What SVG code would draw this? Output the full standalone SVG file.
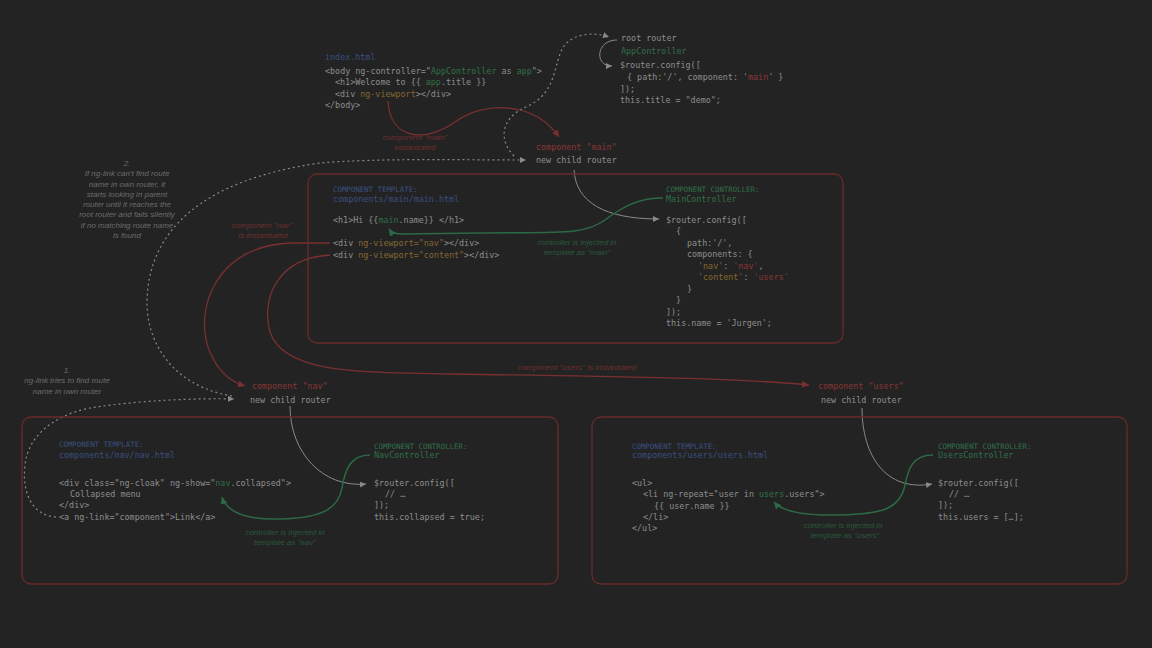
<svg xmlns="http://www.w3.org/2000/svg" width="1152" height="648" viewBox="0 0 1152 648">
<style>
.bg{fill:#232323}
.c{font-family:"DejaVu Sans Mono","Liberation Mono",monospace;font-size:8.4px;fill:#8e8e8e;white-space:pre}
.h{font-family:"DejaVu Sans Mono","Liberation Mono",monospace;font-size:7.4px;white-space:pre}
.b{fill:#3a4f80}
.g{fill:#2f7048}
.r{fill:#8a3636}
.o{fill:#85672f}
.gr{fill:#8e8e8e}
.note{font-family:"Liberation Sans",Arial,sans-serif;font-style:italic;font-size:8px;fill:#6c6c6c;text-anchor:middle}
.rl{font-family:"Liberation Sans",Arial,sans-serif;font-style:italic;font-size:8px;fill:#6e2e2e;text-anchor:middle}
.gl{font-family:"Liberation Sans",Arial,sans-serif;font-style:italic;font-size:8px;fill:#285a3b;text-anchor:middle}
.box{fill:none;stroke:#6a2b2b;stroke-width:1.3}
.lg{fill:none;stroke:#8a8a8a;stroke-width:1}
.ld{fill:none;stroke:#8a8a8a;stroke-width:1.2;stroke-dasharray:2 3}
.lr{fill:none;stroke:#7a3030;stroke-width:1.3}
.lgn{fill:none;stroke:#2c6a45;stroke-width:1.5}
</style>
<defs>
<marker id="ag" markerWidth="8" markerHeight="8" refX="6" refY="3" orient="auto" markerUnits="userSpaceOnUse"><path d="M0,0 L6,3 L0,6 Z" fill="#8a8a8a"/></marker>
<marker id="ar" markerWidth="9" markerHeight="9" refX="7" refY="3.5" orient="auto" markerUnits="userSpaceOnUse"><path d="M0,0 L7,3.5 L0,7 Z" fill="#7a3030"/></marker>
<marker id="agn" markerWidth="9" markerHeight="9" refX="7" refY="3.5" orient="auto" markerUnits="userSpaceOnUse"><path d="M0,0 L7,3.5 L0,7 Z" fill="#2c6a45"/></marker>
</defs>
<rect class="bg" x="0" y="0" width="1152" height="648"/>

<g id="connectors">
<!-- root self loop -->
<path class="lg" d="M617,40 C596,40 594,66 612,66" marker-end="url(#ag)"/>
<!-- router to config -->
<path class="lg" d="M574,170 C576,202 604,219 659,219" marker-end="url(#ag)"/>
<path class="lg" d="M290,406 C290,452 322,488 366,484" marker-end="url(#ag)"/>
<path class="lg" d="M862,408 C862,456 886,492 932,484" marker-end="url(#ag)"/>
<!-- dotted lookup paths -->
<path class="ld" d="M56,517 C30,515 22,490 25,465 C28,435 55,415 90,408 C140,400 200,398 234,399" marker-end="url(#ag)"/>
<path class="ld" d="M232,396 C172,386 146,342 147,300 C149,232 200,180 320,163 C380,158 460,160 526,160" marker-end="url(#ag)"/>
<path class="ld" d="M514,156 C499,141 499,118 528,106 C558,92 553,62 564,46 C574,33 594,32 609,37" marker-end="url(#ag)"/>
<!-- red instantiation -->
<path class="lr" d="M388,101 C390,140 425,143 455,122 C485,100 535,102 559,137" marker-end="url(#ar)"/>
<path class="lr" d="M330,243 L292,243 C215,245 194,310 209,350 C219,374 232,382 245,386" marker-end="url(#ar)"/>
<path class="lr" d="M330,255 C276,258 261,300 270,332 C284,374 360,372 450,374 C600,376 740,378 809,385" marker-end="url(#ar)"/>
<!-- green controller injection -->
<path class="lgn" d="M663,198 C640,198 625,205 605,220 C585,235 560,232 480,233 L402,234 C394,234 391,232 389,229" marker-end="url(#agn)"/>
<path class="lgn" d="M370,455 C350,455 345,470 342,488 C338,510 320,518 280,519 C240,520 226,510 222,497" marker-end="url(#agn)"/>
<path class="lgn" d="M933,455 C912,455 908,470 905,485 C900,510 880,514 840,515 C800,516 781,510 774,502" marker-end="url(#agn)"/>
</g>

<g id="connector-labels">
<text class="rl" x="415" y="140">component "main"</text>
<text class="rl" x="415" y="150">instantiated</text>
<text class="rl" x="262" y="228">component "nav"</text>
<text class="rl" x="263" y="238">is instantiated</text>
<text class="rl" x="577" y="370">component "users" is instantiated</text>
<text class="gl" x="577" y="245">controller is injected in</text>
<text class="gl" x="577" y="255">template as "main"</text>
<text class="gl" x="285" y="535">controller is injected in</text>
<text class="gl" x="285" y="545">template as "nav"</text>
<text class="gl" x="843" y="528">controller is injected in</text>
<text class="gl" x="845" y="538">template as "users"</text>
</g>

<g id="notes">
<text class="note" x="127" y="166">2.</text>
<text class="note" x="127" y="176">If ng-link can't find route</text>
<text class="note" x="127" y="187">name in own router, it</text>
<text class="note" x="127" y="197">starts looking in parent</text>
<text class="note" x="127" y="207">router until it reaches the</text>
<text class="note" x="127" y="217">root router and fails silently</text>
<text class="note" x="127" y="228">if no matching route name</text>
<text class="note" x="127" y="238">is found</text>
<text class="note" x="67" y="373">1.</text>
<text class="note" x="67" y="383">ng-link tries to find route</text>
<text class="note" x="67" y="394">name in own router</text>
</g>

<g id="index-html">
<text class="c b" x="325" y="60">index.html</text>
<text class="c" x="325" y="74">&lt;body ng-controller="<tspan class="g">AppController</tspan> as <tspan class="g">app</tspan>"&gt;</text>
<text class="c" x="335" y="85">&lt;h1&gt;Welcome to {{ <tspan class="g">app</tspan>.title }}</text>
<text class="c" x="335" y="97">&lt;div <tspan class="o">ng-viewport</tspan>&gt;&lt;/div&gt;</text>
<text class="c" x="325" y="108">&lt;/body&gt;</text>
</g>

<g id="root-router">
<text class="c" x="621" y="41">root router</text>
<text class="c g" x="621" y="54">AppController</text>
<text class="c" x="620" y="68">$router.config([</text>
<text class="c" x="627" y="80">{ path:'/', component: '<tspan class="r">main</tspan>' }</text>
<text class="c" x="620" y="92">]);</text>
<text class="c" x="620" y="103">this.title = "demo";</text>
</g>

<g id="main-node">
<text class="c r" x="536" y="150">component "main"</text>
<text class="c" x="536" y="163">new child router</text>
</g>

<g id="main-box">
<rect class="box" x="308" y="174" width="535" height="169" rx="9"/>
<text class="h b" x="333" y="192">COMPONENT TEMPLATE:</text>
<text class="c b" x="333" y="202">components/main/main.html</text>
<text class="c" x="333" y="223">&lt;h1&gt;Hi {{<tspan class="g">main</tspan>.name}} &lt;/h1&gt;</text>
<text class="c" x="333" y="246">&lt;div <tspan class="o">ng-viewport="nav"</tspan>&gt;&lt;/div&gt;</text>
<text class="c" x="333" y="258">&lt;div <tspan class="o">ng-viewport="content"</tspan>&gt;&lt;/div&gt;</text>
<text class="h g" x="666" y="192">COMPONENT CONTROLLER:</text>
<text class="c g" x="666" y="202">MainController</text>
<text class="c" x="666" y="223">$router.config([</text>
<text class="c" x="676" y="234">{</text>
<text class="c" x="687" y="246">path:'/',</text>
<text class="c" x="687" y="257">components: {</text>
<text class="c" x="698" y="269"><tspan class="o">'nav'</tspan>: <tspan class="r">'nav'</tspan>,</text>
<text class="c" x="698" y="280"><tspan class="o">'content'</tspan>: <tspan class="r">'users'</tspan></text>
<text class="c" x="687" y="292">}</text>
<text class="c" x="676" y="303">}</text>
<text class="c" x="666" y="315">]);</text>
<text class="c" x="666" y="326">this.name = 'Jurgen';</text>
</g>

<g id="nav-node">
<text class="c r" x="252" y="389">component "nav"</text>
<text class="c" x="250" y="403">new child router</text>
</g>

<g id="nav-box">
<rect class="box" x="22" y="417" width="536" height="167" rx="9"/>
<text class="h b" x="59" y="447">COMPONENT TEMPLATE:</text>
<text class="c b" x="59" y="458">components/nav/nav.html</text>
<text class="c" x="59" y="486">&lt;div class="ng-cloak" ng-show="<tspan class="g">nav</tspan>.collapsed"&gt;</text>
<text class="c" x="70" y="497">Collapsed menu</text>
<text class="c" x="59" y="508">&lt;/div&gt;</text>
<text class="c" x="59" y="520">&lt;a ng-link="component"&gt;Link&lt;/a&gt;</text>
<text class="h g" x="374" y="449">COMPONENT CONTROLLER:</text>
<text class="c g" x="374" y="458">NavController</text>
<text class="c" x="374" y="486">$router.config([</text>
<text class="c" x="385" y="497">// …</text>
<text class="c" x="374" y="508">]);</text>
<text class="c" x="374" y="520">this.collapsed = true;</text>
</g>

<g id="users-node">
<text class="c r" x="818" y="389">component "users"</text>
<text class="c" x="821" y="403">new child router</text>
</g>

<g id="users-box">
<rect class="box" x="592" y="417" width="535" height="167" rx="9"/>
<text class="h b" x="632" y="449">COMPONENT TEMPLATE:</text>
<text class="c b" x="632" y="458">components/users/users.html</text>
<text class="c" x="632" y="486">&lt;ul&gt;</text>
<text class="c" x="643" y="497">&lt;li ng-repeat="user in <tspan class="g">users</tspan>.users"&gt;</text>
<text class="c" x="654" y="509">{{ user.name }}</text>
<text class="c" x="643" y="520">&lt;/li&gt;</text>
<text class="c" x="632" y="531">&lt;/ul&gt;</text>
<text class="h g" x="938" y="449">COMPONENT CONTROLLER:</text>
<text class="c g" x="938" y="458">UsersController</text>
<text class="c" x="938" y="486">$router.config([</text>
<text class="c" x="949" y="497">// …</text>
<text class="c" x="938" y="508">]);</text>
<text class="c" x="938" y="520">this.users = […];</text>
</g>
</svg>
